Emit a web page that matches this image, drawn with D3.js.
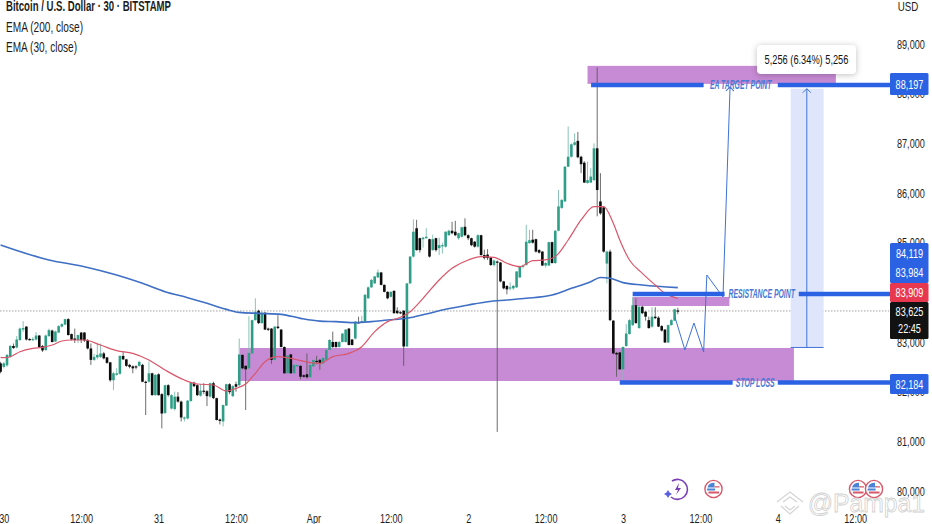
<!DOCTYPE html>
<html>
<head>
<meta charset="utf-8">
<script src="https://cdn.jsdelivr.net/npm/d3@7"></script>
<style>
  html, body { margin: 0; padding: 0; background: #fff; overflow: hidden; }
  text { font-family: "Liberation Sans", Roboto, sans-serif; }
</style>
</head>
<body>
<div id="chart"></div>
<script>
// open, high, low, close (30 minute bars)
const barsMar29 = [[82570,82600,82370,82400]];
const barsMar30 = [
  [82500,82600,82470,82570],[82530,82760,82500,82740],[82700,82940,82680,82920],[82920,82970,82860,82880],
  [82890,83120,82870,83050],[83040,83290,83020,83270],[83250,83420,83200,83280],[83310,83320,83030,83050],
  [83060,83080,83030,83040],[83040,83100,83020,83060],[83050,83200,83030,83130],[83130,83140,82880,82900],
  [82920,82940,82800,82830],[82840,83150,82820,83130],[83120,83270,83100,83240],[83230,83250,82990,83000],
  [83010,83230,83000,83210],[83190,83340,83180,83320],[83310,83380,83290,83360],[83350,83470,83340,83460],
  [83460,83480,83130,83140],[83160,83170,83030,83050],[83070,83270,82980,83040],[83040,83150,82980,83140],
  [83190,83200,82980,83040],[83190,83200,83000,83030],[83040,83060,82850,82870],[82870,82970,82540,82640],
  [82640,82760,82620,82700],[82690,82970,82650,82740],[82700,82970,82680,82770],[82770,82800,82650,82670],
  [82690,82700,82560,82580],[82590,82600,82200,82230],[82230,82400,82030,82370],[82340,82470,82320,82370],
  [82360,82730,82340,82720],[82720,82800,82640,82650],[82650,82660,82500,82520],[82540,82560,82470,82500],
  [82510,82530,82370,82470],[82510,82530,82450,82490],[82520,82620,82500,82600],[82540,82560,82190,82200],
  [82200,82220,81530,82180],[82200,82610,82180,82370],[82370,82380,81920,81930],[81930,82350,81920,82340]
];
const barsMar31 = [
  [82350,82370,81920,81930],[81950,81970,81260,81560],[81570,82140,81550,82130],[82130,82150,81900,81930],
  [81660,81950,81640,81930],[81650,82000,81620,81900],[81900,81990,81780,81800],[81800,81820,81400,81480],
  [81470,81500,81400,81480],[81460,81830,81440,81820],[81810,82190,81800,82180],[82180,82200,82090,82110],
  [82130,82150,81910,81930],[81920,82150,81900,82020],[82020,82170,81950,82000],[82010,82030,81710,81910],
  [81900,82180,81880,82170],[82170,82200,81850,81870],[81870,81880,81420,81430],[81440,81460,81340,81410],
  [81400,81740,81300,81730],[81720,82160,81710,82150],[82150,82170,81950,81990],[81910,82130,81890,82110],
  [82150,82200,82000,82100],[82130,83070,82100,82750],[82740,82750,82450,82470],[82520,82530,81630,82450],
  [82470,83520,82450,82780],[82770,83450,82760,83440],[83440,83880,83430,83610],[83630,83650,83360,83380],
  [83380,83620,83370,83590],[83590,83600,83240,83250],[83270,83290,83220,83250],[83270,83280,82560,82640],
  [82640,83320,82620,83310],[83310,83540,83260,83280],[83250,83260,82890,82900],[82900,82910,82360,82370],
  [82370,82740,82350,82730],[82750,82760,82360,82370],[82370,82560,82350,82540],[82510,82570,82490,82540],
  [82520,82530,82250,82300],[82330,82350,82280,82300],[82350,82770,82260,82290],[82290,82560,82270,82540]
];
const barsApr1 = [
  [82510,82660,82490,82640],[82620,82720,82550,82600],[82640,82660,82440,82560],[82570,82700,82500,82680],
  [82640,82850,82620,82840],[82840,83060,82820,83040],[83000,83210,82880,82900],[83000,83010,82880,82900],
  [82900,83020,82890,83000],[83000,83180,82990,83170],[83000,83260,82990,83250],[83270,83280,82930,82940],
  [83050,83060,82930,82940],[83070,83420,83050,83410],[83400,83510,83370,83380],[83400,83530,83390,83420],
  [83410,83970,83400,83950],[83880,84120,83870,84100],[84100,84270,84090,84250],[84180,84330,84170,84320],
  [84300,84460,84290,84400],[84400,84410,84140,84150],[84150,84160,84000,84010],[84010,84020,83860,83880],
  [83910,84020,83900,84010],[84030,84040,83570,83580],[83630,83700,83560,83580],[83600,83620,83560,83580],
  [83630,83640,82520,82910],[82910,84190,82900,84180],[84180,84730,84170,84720],[84720,85470,84700,85220],
  [85290,85460,84840,84850],[85090,85100,84800,84850],[85070,85120,84900,85100],[85090,85290,85080,85120],
  [85070,85080,84700,84720],[84850,85160,84840,85070],[85090,85100,84820,84850],[84890,85100,84750,84950],
  [84930,85000,84780,84950],[84920,85230,84900,85220],[85150,85260,85140,85240],[85240,85420,85170,85190],
  [85220,85440,85130,85150],[85090,85200,85060,85190],[85120,85320,85100,85310],[85320,85490,85130,85150]
];
const barsApr2 = [
  [85150,85170,85050,85090],[85090,85100,84930,84950],[85020,85030,84900,84920],[84920,85170,84900,85150],
  [85150,85160,84740,84750],[84750,84860,84660,84690],[84760,84870,84650,84690],[84700,84710,84530,84550],
  [84550,84660,84520,84640],[84620,84640,81190,84600],[84600,84610,84200,84220],[84220,84230,84060,84080],
  [84130,84140,83960,84060],[84090,84200,84040,84100],[84080,84150,84050,84130],[84100,84430,84090,84420],
  [84300,84540,84290,84530],[84530,84560,84480,84540],[84550,85360,84540,85020],[84990,85260,84980,85050],
  [85060,85260,84980,85000],[85070,85080,84800,84820],[84850,84870,84780,84800],[84820,84830,84530,84540],
  [84540,84610,84500,84590],[84540,85020,84530,85010],[85010,85020,84580,84590],[84590,85250,84570,85240],
  [85240,86060,85230,85730],[85700,85880,85680,85860],[85830,86540,85820,86530],[86530,87340,86520,86730],
  [86730,87000,86710,86980],[86970,87200,86950,87020],[87050,87230,86700,86720],[86730,86750,86400,86580],
  [86610,86640,86200,86210],[86200,86630,86190,86260],[86210,86500,86200,86330],[86260,87000,86240,86900],
  [86900,88530,85530,86060],[85830,86400,85560,85590],[85710,85730,84800,84820],[84580,84840,84180,84820],
  [84820,84860,83420,83440],[83430,83440,82750,82770],[82780,82800,82300,82750],[82790,82800,82440,82450]
];
const barsApr3 = [
  [82450,82910,82200,82900],[82920,83360,82900,83170],[83160,83460,83150,83440],[83340,83900,83320,83740],
  [83740,83880,83370,83380],[83280,83730,83270,83710],[83710,83730,83560,83580],[83610,83620,83430,83510],
  [83440,83510,83270,83280],[83310,83700,83290,83510],[83510,83700,83460,83480],[83490,83520,83300,83310],
  [83320,83340,83210,83230],[83250,83260,82980,82990],[82990,83350,82980,83340],[83340,83460,83330,83440],
  [83430,83670,83420,83660],[83635,83690,83560,83625]
];

// moving averages, sampled at the bar where the line could be read
const ema30Bars = [-1,0,2,5,9,12,15,18,21,25,30,35,40,45,50,56,60,65,69,72,75,78,81,85,90,95,98,102,107,111,115,119,123,126,130,135,139,144,148,152,156,160,164,168,171,175,179,183,186,189,191,194,198,202,205,209];
const ema30Vals = [82691,82684,82704,82805,82872,82892,82939,83020,83040,83040,82939,82825,82771,82637,82436,82234,82154,82134,82013,82066,82154,82369,82604,82704,82657,82583,82571,82705,82772,82906,83208,83410,83497,83611,83880,84249,84484,84652,84719,84705,84585,84517,84638,84652,84719,85054,85457,85726,85726,85390,85054,84651,84382,84147,83980,83879];
const ema200Bars = [-1,14,25,35,43,50,57,63,69,73,79,86,92,98,103,109,114,119,125,131,137,144,150,156,162,170,176,182,185,188,192,198,209];
const ema200Vals = [84954,84651,84517,84349,84181,84013,83892,83778,83657,83597,83577,83557,83476,83420,83410,83390,83410,83443,83477,83564,83658,83745,83812,83846,83880,83947,84081,84215,84300,84282,84195,84148,84094];

// annotations
const zoneNames = ["support", "target", "resistance"];
const zoneFrom = [73.2, 181, 195];
const zoneTo = [245, 258, 225];
const zoneTop = [82880, 88560, 83906];
const zoneBottom = [82215, 88197, 83725];

const levelNames = ["EA TARGET POINT", "RESISTANCE POINT", "STOP LOSS"];
const levelPrices = [88175, 83967, 82184];
const levelFrom = [182.1, 195, 191];
const levelGapFrom = [217, 223.5, 226];
const levelGapTo = [240, 246.5, 240];
const levelTo = [275, 275, 275];

const pathBars = [208.1, 211.2, 214, 217, 218, 223, 225.2];
const pathPrices = [83504, 82839, 83383, 82799, 84349, 83906, 88136];

const rangeFrom = 244;
const rangeMid = 249;
const rangeTo = 254.2;
const rangeTop = 88100;
const rangeBottom = 82890;
const rangeText = "5,256 (6.34%) 5,256";

const priceTicks = [80000,81000,82000,83000,84000,85000,86000,87000,88000,89000];
const timeTickLabels = ["30","12:00","31","12:00","Apr","12:00","2","12:00","3","12:00","4","12:00"];
const lastPrice = 83625;

const width = 932, height = 524;
const t0 = Date.UTC(2025, 2, 30);
const halfHour = 30 * 60 * 1000;

const x = d3.scaleUtc()
  .domain([new Date(t0), new Date(t0 + 263 * halfHour)])
  .range([3.8, 3.8 + 263 * 3.225]);
const y = d3.scaleLinear().domain([80000, 89000]).range([491, 44]);
const barX = (i) => x(new Date(t0 + i * halfHour));

const allBars = [].concat(barsMar29, barsMar30, barsMar31, barsApr1, barsApr2, barsApr3);
const candles = allBars.map((d, k) => ({ i: k - 1, o: d[0], h: d[1], l: d[2], c: d[3] }));

// the reference's type is squeezed sideways, so squeeze each text to match
function narrow(sel, ratio) {
  sel.each(function () {
    const len = this.getComputedTextLength();
    d3.select(this).attr("textLength", len * ratio).attr("lengthAdjust", "spacingAndGlyphs");
  });
  return sel;
}

const svg = d3.select("#chart").append("svg")
  .attr("width", width).attr("height", height)
  .style("display", "block");

const defs = svg.append("defs");
defs.append("marker").attr("id", "arrow")
  .attr("viewBox", "-6 -6 12 12").attr("markerWidth", 12).attr("markerHeight", 12)
  .attr("markerUnits", "userSpaceOnUse").attr("orient", "auto")
  .append("path").attr("d", "M-4,-4L0,0L-4,4").attr("fill", "none").attr("stroke", "#3f72d9").attr("stroke-width", 1);

const blue = "#2b62e3";

// last price line
svg.append("line")
  .attr("x1", 0).attr("x2", 889).attr("y1", y(lastPrice)).attr("y2", y(lastPrice))
  .attr("stroke", "#8a8a8a").attr("stroke-width", 0.8).attr("stroke-dasharray", "1.5,1.5");

// long position box
svg.append("rect")
  .attr("x", barX(rangeFrom)).attr("width", barX(rangeTo) - barX(rangeFrom))
  .attr("y", y(rangeTop)).attr("height", y(rangeBottom) - y(rangeTop))
  .attr("fill", "#dfe6fb");

// zones
svg.append("g").selectAll("rect").data(zoneNames).join("rect")
  .attr("x", (d, k) => barX(zoneFrom[k]))
  .attr("width", (d, k) => barX(zoneTo[k]) - barX(zoneFrom[k]))
  .attr("y", (d, k) => y(zoneTop[k]))
  .attr("height", (d, k) => y(zoneBottom[k]) - y(zoneTop[k]))
  .attr("fill", "#c78ad4");

// candles
const candleG = svg.append("g");
candleG.selectAll("line").data(candles).join("line")
  .attr("x1", (d) => barX(d.i)).attr("x2", (d) => barX(d.i))
  .attr("y1", (d) => y(d.h)).attr("y2", (d) => y(d.l))
  .attr("stroke", (d) => (d.c >= d.o ? "#7dbcae" : "#5c5c5c"))
  .attr("stroke-width", 0.9);
candleG.selectAll("rect").data(candles).join("rect")
  .attr("x", (d) => barX(d.i) - 1.3).attr("width", 2.6)
  .attr("y", (d) => y(Math.max(d.o, d.c)))
  .attr("height", (d) => Math.max(1.2, Math.abs(y(d.o) - y(d.c))))
  .attr("fill", (d) => (d.c >= d.o ? "#2f9e87" : "#0c0c0c"));

// moving averages
const emaLine = d3.line().curve(d3.curveMonotoneX).x((d) => barX(d[0])).y((d) => y(d[1]));
svg.append("path")
  .attr("d", emaLine(d3.zip(ema200Bars, ema200Vals)))
  .attr("fill", "none").attr("stroke", "#3f6fc4").attr("stroke-width", 1.6);
svg.append("path")
  .attr("d", emaLine(d3.zip(ema30Bars, ema30Vals)))
  .attr("fill", "none").attr("stroke", "#d9566a").attr("stroke-width", 1.2);

// long position centre line
svg.append("line")
  .attr("x1", barX(rangeMid)).attr("x2", barX(rangeMid))
  .attr("y1", y(rangeBottom)).attr("y2", y(rangeTop))
  .attr("stroke", "#3f72d9").attr("stroke-width", 1).attr("marker-end", "url(#arrow)");
svg.append("line")
  .attr("x1", barX(rangeFrom)).attr("x2", barX(rangeTo))
  .attr("y1", y(rangeBottom)).attr("y2", y(rangeBottom))
  .attr("stroke", "#3f72d9").attr("stroke-width", 1);

// projected path
svg.append("path")
  .attr("d", d3.line().x((d) => barX(d[0])).y((d) => y(d[1]))(d3.zip(pathBars, pathPrices)))
  .attr("fill", "none").attr("stroke", "#3f72d9").attr("stroke-width", 1)
  .attr("marker-end", "url(#arrow)");

// level lines with their labels sitting in a gap
levelNames.forEach((name, k) => {
  const g = svg.append("g");
  [[levelFrom[k], levelGapFrom[k]], [levelGapTo[k], levelTo[k]]].forEach((seg) => {
    g.append("line")
      .attr("x1", barX(seg[0])).attr("x2", barX(seg[1]))
      .attr("y1", y(levelPrices[k])).attr("y2", y(levelPrices[k]))
      .attr("stroke", blue).attr("stroke-width", 4.6);
  });
  const label = g.append("text")
    .attr("x", (barX(levelGapFrom[k]) + barX(levelGapTo[k])) / 2)
    .attr("y", y(levelPrices[k]))
    .attr("dy", "0.35em").attr("text-anchor", "middle")
    .attr("font-size", 12).attr("font-style", "italic").attr("font-weight", "bold")
    .attr("fill", "#4a78d4").text(name);
  narrow(label, 0.57);
});

// axes
const yAxis = svg.append("g")
  .attr("transform", "translate(890,0)")
  .call(d3.axisRight(y).tickValues(priceTicks).tickSize(0).tickPadding(7).tickFormat(d3.format(",")));
yAxis.select(".domain").remove();
narrow(yAxis.selectAll("text").attr("font-size", 13).attr("font-family", null).attr("fill", "#1c1c1c"), 0.7);

const xAxis = svg.append("g")
  .attr("transform", "translate(0,511)")
  .call(d3.axisBottom(x)
    .tickValues(timeTickLabels.map((d, k) => new Date(t0 + k * 24 * halfHour)))
    .tickSize(0).tickPadding(3)
    .tickFormat((d, k) => timeTickLabels[k]));
xAxis.select(".domain").remove();
narrow(xAxis.selectAll("text").attr("font-size", 13).attr("font-family", null).attr("fill", "#1c1c1c"), 0.7);

// price tags on the right
const tags = [
  { top: 73, bottom: 95, fill: blue, lines: [["88,197", 84]] },
  { top: 243, bottom: 283, fill: blue, lines: [["84,119", 253], ["83,984", 272]] },
  { top: 283, bottom: 302, fill: "#e8384f", lines: [["83,909", 292.5]] },
  { top: 302, bottom: 339, fill: "#121212", lines: [["83,625", 311.5], ["22:45", 328]] },
  { top: 374, bottom: 394, fill: blue, lines: [["82,184", 384]] }
];
tags.forEach((t) => {
  svg.append("rect")
    .attr("x", 890).attr("width", 38.5).attr("y", t.top).attr("height", t.bottom - t.top)
    .attr("rx", 1.5).attr("fill", t.fill);
  t.lines.forEach((l) => {
    narrow(svg.append("text").attr("x", 909.5).attr("y", l[1]).attr("dy", "0.35em")
      .attr("text-anchor", "middle").attr("font-size", 13).attr("fill", "#fff").text(l[0]), 0.7);
  });
});

narrow(svg.append("text").attr("x", 908).attr("y", 6).attr("dy", "0.35em")
  .attr("text-anchor", "middle").attr("font-size", 13).attr("fill", "#1c1c1c").text("USD"), 0.75);

// measure tooltip
svg.append("rect")
  .attr("x", 757).attr("y", 45).attr("width", 99).attr("height", 29).attr("rx", 4)
  .attr("fill", "#fff").style("filter", "drop-shadow(0 1px 3px rgba(0,0,0,0.25))");
narrow(svg.append("text").attr("x", 806.5).attr("y", 60).attr("dy", "0.35em")
  .attr("text-anchor", "middle").attr("font-size", 12.5).attr("fill", "#111").text(rangeText), 0.74);

// legend
const legendRows = [
  ["Bitcoin / U.S. Dollar · 30 · BITSTAMP", 6, 165, "bold"],
  ["EMA (200, close)", 27, 77, "normal"],
  ["EMA (30, close)", 47, 71, "normal"]
];
legendRows.forEach((r) => {
  svg.append("text").attr("x", 6).attr("y", r[1]).attr("dy", "0.35em")
    .attr("font-size", 14).attr("font-weight", r[3]).attr("fill", "#1c1c1c")
    .attr("textLength", r[2]).attr("lengthAdjust", "spacingAndGlyphs").text(r[0]);
});

// event icons
function flag(cx, cy) {
  const g = svg.append("g").attr("transform", "translate(" + cx + "," + cy + ")");
  g.append("circle").attr("r", 8.6).attr("fill", "#fff").attr("stroke", "#d9596b").attr("stroke-width", 1.4);
  g.append("path").attr("d", "M-6,-1.5A6.3,6.3 0 0 1 1,-6.2L1,-1.5Z").attr("fill", "#4b83d6");
  g.append("rect").attr("x", -6.4).attr("y", -0.5).attr("width", 8).attr("height", 2).attr("fill", "#4b83d6");
  g.append("rect").attr("x", 1).attr("y", -3).attr("width", 5).attr("height", 1.6).attr("fill", "#e57b87");
  g.append("rect").attr("x", -5).attr("y", 2.5).attr("width", 10.5).attr("height", 2).attr("fill", "#d9596b");
}
flag(713.5, 489);
flag(858, 489);
flag(874, 489);

const bolt = svg.append("g").attr("transform", "translate(677,489)");
bolt.append("path").attr("d", "M-5,-8A10,10 0 1 1 -6,8")
  .attr("fill", "none").attr("stroke", "#7b3fb5").attr("stroke-width", 1.6);
bolt.append("path").attr("d", "M2,-6L-2,1L1,1L-1,6L4,-1L1,-1Z").attr("fill", "#7b3fb5");
bolt.append("path").attr("d", "M-9,1L-7.5,3.5L-5,5L-7.5,6.5L-9,9L-10.5,6.5L-13,5L-10.5,3.5Z").attr("fill", "#5b5fe0");

// watermark
const mark = svg.append("g").attr("transform", "translate(790,503)")
  .attr("fill", "none").attr("stroke", "#d4d4d4").attr("stroke-width", 1.2);
mark.append("path").attr("d", "M-13,-1L0,-11L13,-1M-7,-1L0,-6L7,-1M-9,3L0,11L9,3M-5,3L0,7L5,3");
svg.append("text").attr("x", 808).attr("y", 512)
  .attr("font-size", 26).attr("fill", "none").attr("stroke", "#cfcfcf").attr("stroke-width", 0.8)
  .attr("textLength", 117).attr("lengthAdjust", "spacingAndGlyphs").text("@Pampa1");
</script>
</body>
</html>
